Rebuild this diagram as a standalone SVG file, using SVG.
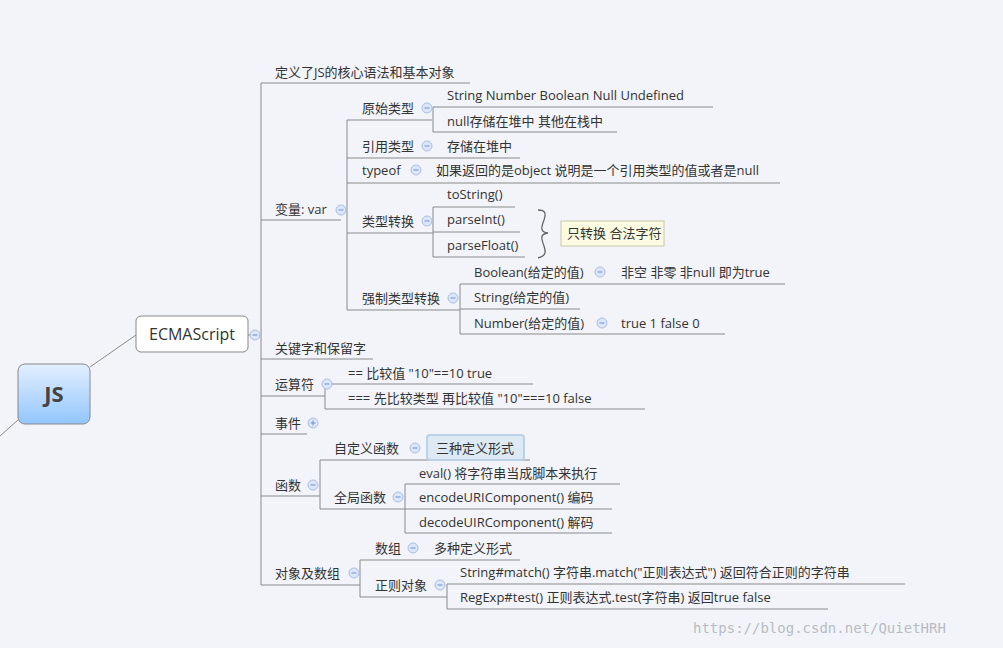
<svg xmlns="http://www.w3.org/2000/svg" width="1003" height="648" viewBox="0 0 1003 648">
<defs>
<linearGradient id="g" x1="0" y1="0" x2="0" y2="1"><stop offset="0" stop-color="#e2efff"/><stop offset="1" stop-color="#93c6fd"/></linearGradient>
<g id="mi"><circle r="5" fill="#dce6f8" stroke="#a9bfe6"/><path d="M-2.5,0H2.5" stroke="#6c8fd0"/></g>
<g id="pl"><circle r="5" fill="#dce6f8" stroke="#a9bfe6"/><path d="M-2.5,0H2.5M0,-2.5V2.5" stroke="#6c8fd0"/></g>
</defs>
<style>
text{font-family:"Open Sans","Noto Sans CJK SC",sans-serif;font-size:13px;fill:#333}
.l{stroke:#8a8a8a;fill:none;stroke-width:1}
</style>
<rect width="1003" height="648" fill="#f2f4f9"/>
<g id="connectors" class="l">
<path d="M90,367L136,335M18,420L0,436M248,335H255"/>
<path d="M261,83V585"/>
<path d="M261,83H470M261,220H341M261,359H373M261,396H325M261,434H307M261,496H320M261,585H360"/>
<path d="M347,120V310M347,120H432M347,158H520M347,183H780M347,233H433M347,310H460"/>
<path d="M433,107V132M433,107H713M433,132H617"/>
<path d="M433,207V257M433,207H515M433,232H520M433,257H525"/>
<path d="M460,284V334M460,284H785M460,309H580M460,334H725"/>
<path d="M325,384V409M325,384H533M325,409H645"/>
<path d="M320,460V509M320,460H530M320,509H405"/>
<path d="M405,484V533M405,484H620M405,509H612M405,533H612"/>
<path d="M360,560V597M360,560H520M360,597H447"/>
<path d="M447,584V609M447,584H905M447,609H828"/>
<path d="M538,210c8,0 8,4 6,10c-3,8 -4,12 4,13c-8,1 -7,5 -4,13c2,6 2,10 -6,12" stroke="#666" stroke-width="1.3"/>
</g>
<g id="JS"><rect x="18" y="364" width="72" height="60" rx="7" fill="url(#g)" stroke="#888"/><text x="54" y="402" text-anchor="middle" style="font-size:22px;font-weight:bold;fill:#444">JS</text></g>
<g id="ECMAScript"><rect x="136" y="316" width="112" height="36" rx="5" fill="#fff" stroke="#888"/><text x="192" y="340" text-anchor="middle" style="font-size:16px">ECMAScript</text><use href="#mi" x="255" y="335"/></g>
<g id="n1"><text x="275" y="77">定义了JS的核心语法和基本对象</text></g>
<g id="var"><text x="275" y="214">变量: var</text><use href="#mi" x="341" y="210"/></g>
<g id="yuanshi"><text x="362" y="113">原始类型</text><use href="#mi" x="427" y="108"/></g>
<g id="ys1"><text x="447" y="100">String   Number   Boolean  Null  Undefined</text></g>
<g id="ys2"><text x="447" y="126">null存储在堆中  其他在栈中</text></g>
<g id="yinyong"><text x="362" y="151">引用类型</text><use href="#mi" x="427" y="146"/><text x="447" y="151">存储在堆中</text></g>
<g id="typeof"><text x="362" y="175">typeof</text><use href="#mi" x="416" y="170"/><text x="436" y="175">如果返回的是object  说明是一个引用类型的值或者是null</text></g>
<g id="zhuanhuan"><text x="362" y="226">类型转换</text><use href="#mi" x="427" y="221"/></g>
<g id="toString"><text x="447" y="199">toString()</text></g>
<g id="parseInt"><text x="447" y="224">parseInt()</text></g>
<g id="parseFloat"><text x="447" y="250">parseFloat()</text></g>
<g id="note"><rect x="561" y="221" width="103" height="25" fill="#fbfbe2" stroke="#c8c8a8"/><text x="567" y="238">只转换 合法字符</text></g>
<g id="qiangzhi"><text x="362" y="303">强制类型转换</text><use href="#mi" x="453" y="298"/></g>
<g id="bool"><text x="474" y="277">Boolean(给定的值)</text><use href="#mi" x="600" y="272"/><text x="621" y="277">非空  非零  非null   即为true</text></g>
<g id="str"><text x="474" y="302">String(给定的值)</text></g>
<g id="num"><text x="474" y="328">Number(给定的值)</text><use href="#mi" x="602" y="323"/><text x="621" y="328">true 1     false  0</text></g>
<g id="kw"><text x="275" y="353">关键字和保留字</text></g>
<g id="op"><text x="275" y="389">运算符</text><use href="#mi" x="327" y="384"/></g>
<g id="op1"><text x="348" y="378">== 比较值      "10"==10  true</text></g>
<g id="op2"><text x="348" y="403">=== 先比较类型 再比较值       "10"===10    false</text></g>
<g id="event"><text x="275" y="428">事件</text><use href="#pl" x="313" y="423"/></g>
<g id="func"><text x="275" y="490">函数</text><use href="#mi" x="313" y="485"/></g>
<g id="zidingyi"><text x="334" y="453">自定义函数</text><use href="#mi" x="415" y="448"/><rect x="427" y="435" width="97" height="25" rx="3" fill="#dde9f3" stroke="#b9d2e8" stroke-width="2"/><text x="436" y="453">三种定义形式</text></g>
<g id="quanju"><text x="334" y="502">全局函数</text><use href="#mi" x="398" y="497"/></g>
<g id="eval"><text x="419" y="478">eval()    将字符串当成脚本来执行</text></g>
<g id="enc"><text x="419" y="502">encodeURIComponent()   编码</text></g>
<g id="dec"><text x="419" y="527">decodeUIRComponent()   解码</text></g>
<g id="obj"><text x="275" y="578">对象及数组</text><use href="#mi" x="354" y="573"/></g>
<g id="arr"><text x="375" y="553">数组</text><use href="#mi" x="413" y="548"/><text x="434" y="553">多种定义形式</text></g>
<g id="reg"><text x="375" y="590">正则对象</text><use href="#mi" x="440" y="585"/></g>
<g id="match"><text x="460" y="577">String#match()      字符串.match("正则表达式")     返回符合正则的字符串</text></g>
<g id="test"><text x="460" y="602">RegExp#test()       正则表达式.test(字符串)    返回true   false</text></g>
<text x="693" y="633" style="font-family:'DejaVu Sans Mono',monospace;font-size:14px;fill:#b8bcc4">https://blog.csdn.net/QuietHRH</text>
</svg>
